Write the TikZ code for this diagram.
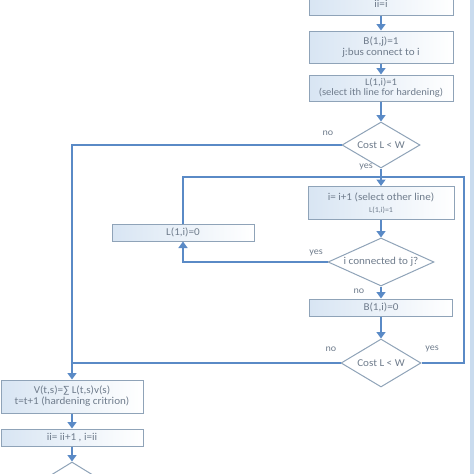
\documentclass[tikz,border=0pt]{standalone}
\usepackage{fontspec}
\setmainfont[FakeStretch=1.06]{Carlito}
\usetikzlibrary{arrows.meta,shapes.geometric}

\definecolor{linkblue}{HTML}{5A8AC6}
\definecolor{boxedge}{HTML}{8FA3B8}
\definecolor{boxtext}{HTML}{6F7C8C}
\definecolor{boxfill}{HTML}{D8E5F3}
\definecolor{sidebar}{HTML}{C9DBEE}

\begin{document}
\begin{tikzpicture}[x=1pt, y=-1pt,
	stepbox/.style={draw=boxedge, line width=1pt, left color=boxfill, right color=white,
		text=boxtext, align=center, inner sep=1pt, minimum width=144pt,
		font=\fontsize{10.5}{11}\selectfont},
	test/.style={draw=boxedge, line width=1pt, fill=white, shape=diamond, shape aspect=1.7,
		text=boxtext, inner sep=0pt, font=\fontsize{10.5}{11}\selectfont},
	link/.style={draw=linkblue, line width=1.5pt},
	arrow/.style={link, -{Triangle[length=6.5pt,width=9pt]}},
	answer/.style={text=boxtext, inner sep=0pt, font=\fontsize{9.5}{10}\selectfont}]

\clip (0,0) rectangle (474,474);
\useasboundingbox (0,0) rectangle (474,474);

% SIDE BAR
\fill [sidebar] (470,0) rectangle (474,474);

% BOXES
\node [stepbox, minimum height=22pt] (start) at (381,4) {ii=i};
\node [stepbox, minimum height=32pt] (busset) at (381,47) {B(1,j)=1\\j:bus connect to i};
\node [stepbox, minimum height=26pt, font=\fontsize{10}{10}\selectfont] (lineset) at (381,88)
	{L(1,i)=1\\(select ith line for hardening)};
\node [stepbox, minimum height=33pt, minimum width=146pt] (nextline) at (381,203)
	{i= i+1 (select other line)\\[0.5pt]{\fontsize{7.5}{7.5}\selectfont L(1,i)=1}};
\node [stepbox, minimum height=17pt, minimum width=142pt] (unset) at (183,232.5) {L(1,i)=0};
\node [stepbox, minimum height=17pt, minimum width=143pt] (busclear) at (381,307.5) {B(1,i)=0};
\node [stepbox, minimum height=33pt, minimum width=142pt] (vote) at (72,396.5)
	{V(t,s)=∑ L(t,s)v(s)\\t=t+1 (hardening critrion)};
\node [stepbox, minimum height=17pt, minimum width=142pt] (count) at (72,437.5) {ii= ii+1 , i=ii};

% DECISIONS
\node [test, minimum width=78pt, minimum height=46pt] (costtop) at (381,145) {Cost L < W};
\node [test, shape aspect=2.3, minimum width=106pt, minimum height=48pt] (linked) at (381,262) {i connected to j?};
\node [test, minimum width=80pt, minimum height=48pt] (costlow) at (381,363) {Cost L < W};
\node [test, minimum width=78pt, minimum height=48pt] (costnext) at (72,486) {};

% LINKS
\coordinate (merge) at (381,177);
\coordinate (turn) at (464,177);
\draw [arrow] (start) -- (busset);
\draw [arrow] (busset) -- (lineset);
\draw [arrow] (lineset) -- (costtop);
\draw [arrow] (costtop) -- (nextline);
\draw [arrow] (costtop.west) -| (vote.north);
\draw [arrow] (nextline) -- (linked);
\draw [arrow] (linked.west) -| (unset.south);
\draw [arrow] (linked) -- (busclear);
\draw [arrow] (busclear) -- (costlow);
\draw [link] (costlow.west) -- (costlow.west -| vote.north);
\draw [link] (unset.north) |- (merge);
\draw [link] (costlow.east) -| (turn) -- (merge);
\draw [arrow] (vote) -- (count);
\draw [arrow] (count) -- (costnext);

% ANSWERS
\node [answer] (nofirst) at (328,133) {no};
\node [answer] (yesfirst) at (366,167) {yes};
\node [answer] (yeslink) at (316,253) {yes};
\node [answer] (nolink) at (359,291) {no};
\node [answer] (nolast) at (331,349) {no};
\node [answer] (yeslast) at (432,349) {yes};

\end{tikzpicture}
\end{document}
